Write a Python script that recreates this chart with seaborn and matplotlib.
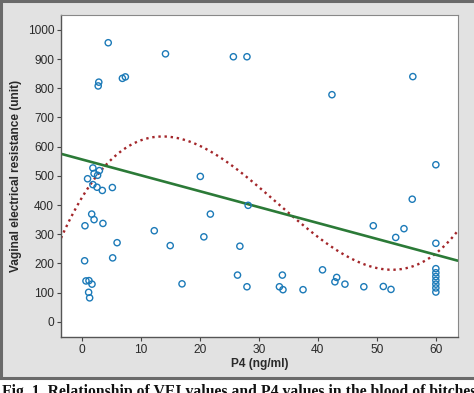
import numpy as np
import pandas as pd
import matplotlib
matplotlib.use("Agg")
import matplotlib.pyplot as plt
from matplotlib.patches import Rectangle
import seaborn as sns

sns.set_theme(style="white")
plt.rcParams['font.family'] = ['Liberation Sans', 'DejaVu Sans']

# P4 (ng/ml) and vaginal electrical resistance
p4 = [4.5, 14.2, 25.7, 28.0, 2.9, 2.8, 6.9, 7.4, 56.1, 42.4, 60.0,
      1.9, 3.0, 2.1, 2.7, 1.0, 1.9, 2.6, 3.5, 5.2,
      20.1, 56.0, 28.2, 1.7, 2.1, 0.56, 3.6, 21.8, 49.4, 54.6, 12.3,
      20.7, 53.2, 6.0, 60.0, 15.0, 26.8, 5.25, 0.5, 40.8, 26.4, 34.0,
      43.2, 0.73, 1.24, 42.9, 17.0, 1.75, 44.6, 28.0, 33.5, 47.8, 51.1,
      34.1, 37.5, 52.4, 1.18, 1.35,
      60.0, 60.0, 60.0, 60.0, 60.0, 60.0, 60.0]
vei = [956, 918, 908, 908, 821, 808, 834, 839, 840, 778, 538,
       527, 518, 508, 502, 490, 470, 461, 450, 460,
       498, 420, 399, 369, 350, 329, 337, 369, 329, 319, 312,
       291, 289, 271, 269, 261, 259, 219, 209, 178, 160, 160,
       152, 140, 141, 137, 130, 129, 129, 120, 120, 120, 121,
       110, 110, 111, 101, 82,
       182, 168, 155, 142, 129, 116, 102]
df = pd.DataFrame({'p4': p4, 'vei': vei})

# fit lines as they appear in the picture
lin_x = [-3.5, 26.5, 63.7]
lin_y = [575, 413, 209]
cub_x = [-3.5, -0.6, 1.6, 4.5, 7.3, 10.1, 14.1, 18.6, 21.4, 25.4, 33.6, 36.4,
         39.3, 42.1, 44.9, 47.7, 50.6, 53.1, 56.2, 59.6, 63.3]
cub_y = [291, 400, 474, 545, 594, 620, 632, 614, 591, 537, 403, 354,
         303, 257, 225, 194, 180, 177, 191, 229, 303]

x_ticks = [0, 10, 20, 30, 40, 50, 60]
y_ticks = [0, 100, 200, 300, 400, 500, 600, 700, 800, 900, 1000]

fig = plt.figure(figsize=(4.74, 3.93), dpi=100)
fig.patch.set_facecolor('white')
fig.patches.append(Rectangle((0.002, 0.037), 1.1, 0.96, transform=fig.transFigure,
                             facecolor='#e2e2e2', edgecolor='#6a6a6a', linewidth=2.2, zorder=-5))

ax = fig.add_axes([0.1287, 0.1433, 0.8369, 0.8185])
ax.set_facecolor('white')
ax.set_xlim(-3.5, 63.7)
ax.set_ylim(-51, 1051)

sns.regplot(x=cub_x, y=cub_y, scatter=False, ci=None, truncate=False, order=3, ax=ax,
            line_kws=dict(color='#a3262a', lw=1.7, linestyle=(0, (1, 1.6))))
sns.regplot(x=lin_x, y=lin_y, scatter=False, ci=None, truncate=False, ax=ax,
            line_kws=dict(color='#2b7a37', lw=1.9))
sns.scatterplot(data=df, x='p4', y='vei', marker='o', s=20, facecolor='none',
                edgecolor='#1c7ab8', linewidth=1.0, ax=ax, zorder=5)

ax.set_xlim(-3.5, 63.7)
ax.set_ylim(-51, 1051)
ax.set_xticks(x_ticks)
ax.set_yticks(y_ticks)
ax.tick_params(axis='both', direction='out', length=3, width=0.8, color='#444444',
               labelsize=8.6, labelcolor='#2a2a2a', pad=2)
ax.tick_params(left=True, bottom=True)
for side in ['left', 'bottom']:
    ax.spines[side].set_color('#555555')
    ax.spines[side].set_linewidth(1.0)
for side in ['top', 'right']:
    ax.spines[side].set_color('#888888')
    ax.spines[side].set_linewidth(0.8)

ax.set_xlabel('P4 (ng/ml)', fontsize=8.6, fontweight='bold', color='#2a2a2a', labelpad=2)
ax.set_ylabel('Vaginal electrical resistance (unit)', fontsize=8.6, fontweight='bold',
              color='#2a2a2a', labelpad=4)

fig.text(0.004, 0.022, 'Fig. 1. Relationship of VEI values and P4 values in the blood of bitches',
         family=['Liberation Serif'], fontweight='bold', fontsize=11.3, va='top', ha='left',
         color='#111111')

fig.savefig('out.png', dpi=100)
